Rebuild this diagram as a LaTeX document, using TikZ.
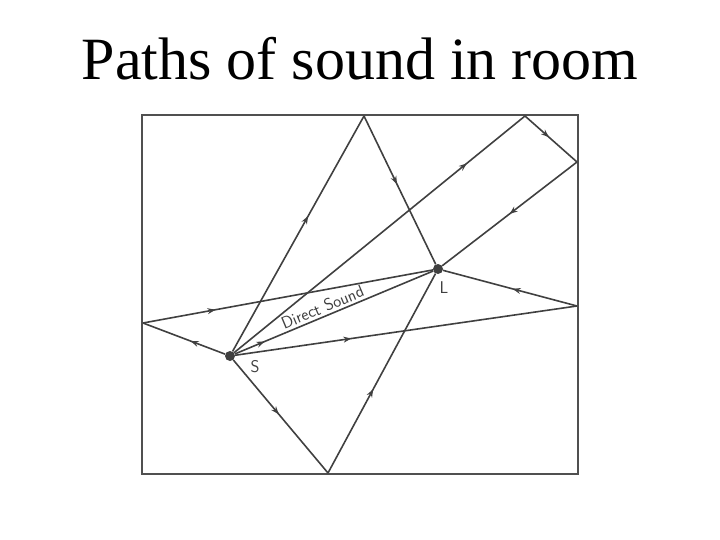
\documentclass[tikz,border=0pt]{standalone}
\usepackage{fontspec}
\setmainfont{Liberation Serif}
\usetikzlibrary{arrows.meta}
\usetikzlibrary{decorations.markings}
\definecolor{raygray}{HTML}{404040}
\definecolor{wallgray}{HTML}{505050}
\tikzset{wall/.style={draw=wallgray, line width=1.3pt}}
\tikzset{ray/.style={
   draw=raygray, line width=1.6pt,
   postaction={decorate, decoration={markings,
     mark=at position #1 with {\arrow{Stealth[length=8pt,width=6pt]}}}}
}}
\tikzset{spot/.style={circle, fill=raygray, inner sep=0pt, minimum size=10pt}}
\tikzset{tag/.style={text=raygray, font=\sffamily\fontsize{17}{20}\selectfont}}

\begin{document}
\begin{tikzpicture}[x=1pt, y=-1pt]

    \useasboundingbox (0,0) rectangle (720,540);

    \node[anchor=base, font=\fontsize{60}{72}\selectfont] (title) at (360,80) {Paths of sound in room};

    \draw[wall] (142,115) rectangle (578,474);

    % reflection points on the walls
    \coordinate (top1) at (364,116);
    \coordinate (top2) at (525,116);
    \coordinate (right1) at (577,162);
    \coordinate (right2) at (577,306);
    \coordinate (left1) at (143,323);
    \coordinate (bottom1) at (328,473);

    \node[spot] (S) at (230,356) {};
    \node[spot] (L) at (438,269) {};
    \node[tag] (Slab) at (255,367) {S};
    \node[tag] (Llab) at (444,288) {L};

    \draw[ray=0.575] (S) -- (top1);
    \draw[ray=0.46] (top1) -- (L);

    \draw[ray=0.8] (S) -- (top2);
    \draw[ray=0.46] (top2) -- (right1);
    \draw[ray=0.5] (right1) -- (L);

    \draw[ray=0.15] (S) -- node[tag, pos=0.46, above=-1pt, sloped] (direct) {Direct Sound} (L);

    \draw[ray=0.34] (S) -- (right2);
    \draw[ray=0.48] (right2) -- (L);

    \draw[ray=0.42] (S) -- (left1);
    \draw[ray=0.25] (left1) -- (L);

    \draw[ray=0.48] (S) -- (bottom1);
    \draw[ray=0.42] (bottom1) -- (L);

  \end{tikzpicture}
\end{document}
